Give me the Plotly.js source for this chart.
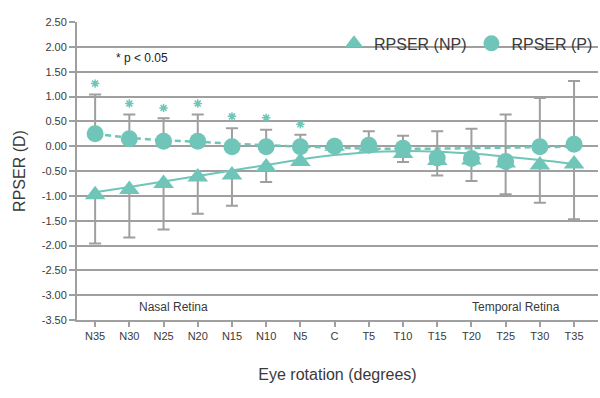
<!DOCTYPE html>
<html>
<head>
<meta charset="utf-8">
<script src="https://cdn.plot.ly/plotly-3.0.1.min.js"></script>
<style>html,body{margin:0;padding:0;background:#fff}#chart{width:600px;height:398px}</style>
</head>
<body>
<div id="chart"></div>
<script>
// Categories (eye rotation)
const categories = ['N35','N30','N25','N20','N15','N10','N5','C','T5','T10','T15','T20','T25','T30','T35'];

// RPSER (NP) values and downward error bars
const npValues = [-0.98,-0.87,-0.75,-0.62,-0.58,-0.42,-0.31,0.00,-0.02,-0.15,-0.29,-0.28,-0.34,-0.38,-0.36];
const npErrMinus = [0.98,0.97,0.93,0.74,0.62,0.30,0.05,0.00,0.00,0.17,0.30,0.42,0.63,0.76,1.11];
const npErrPlus = [0,0,0,0,0,0,0,0,0,0,0,0,0,0,0];

// RPSER (P) values and upward error bars
const pValues = [0.25,0.15,0.10,0.10,-0.01,-0.01,-0.01,0.00,0.02,-0.04,-0.24,-0.25,-0.31,-0.01,0.04];
const pErrPlus = [0.79,0.49,0.46,0.54,0.37,0.34,0.24,0.00,0.28,0.25,0.54,0.60,0.95,0.98,1.27];
const pErrMinus = [0,0,0,0,0,0,0,0,0,0,0,0,0,0,0];

// Trend lines
const npTrend = [-0.93,-0.82,-0.71,-0.60,-0.49,-0.38,-0.27,-0.18,-0.12,-0.10,-0.11,-0.15,-0.21,-0.28,-0.36];
const pTrend = [0.25,0.17,0.12,0.09,0.05,0.02,-0.01,-0.03,-0.05,-0.05,-0.05,-0.04,-0.03,-0.02,-0.01];

// Significance stars (p < 0.05)
const starCategories = ['N35','N30','N25','N20','N15','N10','N5'];
const starValues = [1.26,0.86,0.77,0.86,0.60,0.57,0.44];

// Y tick values and labels
const yTickValues = [2.5,2,1.5,1,0.5,0,-0.5,-1,-1.5,-2,-2.5,-3,-3.5];
const yTickLabels = ['2.50','2.00','1.50','1.00','0.50','0.00','-0.50','-1.00','-1.50','-2.00','-2.50','-3.00','-3.50'];

const teal = '#6fc6b8';
const grey = '#9f9f9f';
const font = 'Liberation Sans, Arial, sans-serif';

const traces = [
  {x: categories, y: npTrend, mode: 'lines', line: {color: teal, width: 2, shape: 'spline'}, showlegend: false, hoverinfo: 'skip'},
  {x: categories, y: pTrend, mode: 'lines', line: {color: teal, width: 2.5, dash: '6px,4px', shape: 'spline'}, showlegend: false, hoverinfo: 'skip'},
  {x: categories, y: npValues, name: 'RPSER (NP)', mode: 'markers',
   marker: {symbol: 'triangle-up', size: 18, color: teal},
   error_y: {type: 'data', symmetric: false, array: npErrPlus, arrayminus: npErrMinus, color: grey, thickness: 2, width: 6}},
  {x: categories, y: pValues, name: 'RPSER (P)', mode: 'markers',
   marker: {symbol: 'circle', size: 17, color: teal},
   error_y: {type: 'data', symmetric: false, array: pErrPlus, arrayminus: pErrMinus, color: grey, thickness: 2, width: 6}},
  {x: starCategories, y: starValues, mode: 'markers', showlegend: false, hoverinfo: 'skip',
   marker: {symbol: 'asterisk-open', size: 7, color: teal, line: {color: teal, width: 1.5}}}
];

const layout = {
  width: 600, height: 398,
  margin: {l: 77, r: 2, t: 22, b: 78},
  paper_bgcolor: '#fff', plot_bgcolor: '#fff',
  font: {family: font, color: '#3a3a3a', size: 11},
  showlegend: true,
  legend: {orientation: 'h', x: 1, xanchor: 'right', y: 0.985, yanchor: 'top',
           font: {size: 16, color: '#3a3a3a'}, bgcolor: 'rgba(255,255,255,0)', traceorder: 'normal'},
  xaxis: {
    type: 'category', categoryorder: 'array', categoryarray: categories,
    range: [-0.53, 14.7],
    showgrid: false, zeroline: false,
    showline: true, linecolor: grey, linewidth: 2,
    ticks: 'outside', ticklen: 5, tickwidth: 2, tickcolor: grey,
    tickfont: {size: 11, color: '#3a3a3a'},
    title: {text: 'Eye rotation (degrees)', font: {size: 16, color: '#3a3a3a'}, standoff: 28}
  },
  yaxis: {
    range: [-3.5, 2.5], tickvals: yTickValues, ticktext: yTickLabels,
    showgrid: true, gridcolor: grey, gridwidth: 2, zeroline: false,
    showline: true, linecolor: grey, linewidth: 2,
    ticks: 'outside', ticklen: 6, tickwidth: 2, tickcolor: grey,
    tickfont: {size: 11, color: '#3a3a3a'},
    title: {text: 'RPSER (D)', font: {size: 16, color: '#3a3a3a'}, standoff: 12}
  },
  annotations: [
    {text: '* p < 0.05', x: 1.36, y: 1.77, xref: 'x', yref: 'y', showarrow: false, font: {size: 12, color: '#222'}},
    {text: 'Nasal Retina', x: 2.3, y: -3.23, xref: 'x', yref: 'y', showarrow: false, font: {size: 12, color: '#3a3a3a'}},
    {text: 'Temporal Retina', x: 12.29, y: -3.23, xref: 'x', yref: 'y', showarrow: false, font: {size: 12, color: '#3a3a3a'}}
  ]
};

Plotly.newPlot('chart', traces, layout, {displayModeBar: false, staticPlot: true});
</script>
</body>
</html>
